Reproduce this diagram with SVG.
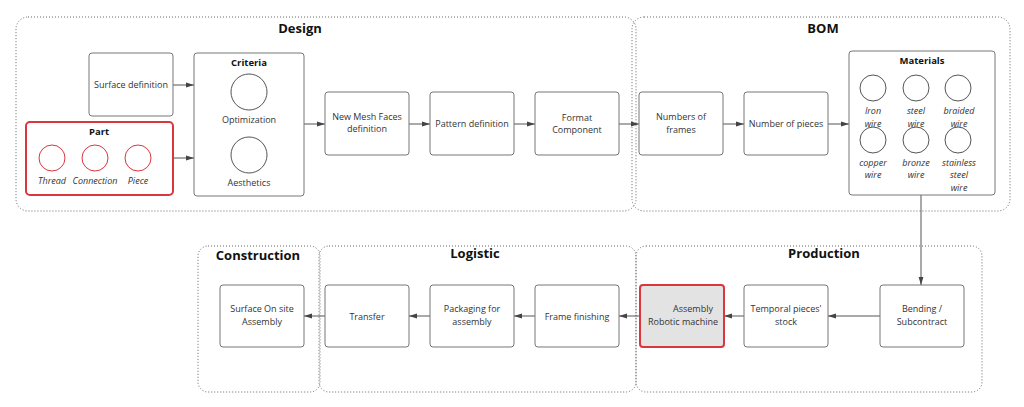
<svg xmlns="http://www.w3.org/2000/svg" width="1024" height="407" viewBox="0 0 1024 407">
<style>
text{font-family:"Open Sans","Noto Sans",sans-serif;fill:#333;font-size:9px;text-anchor:middle}
.t{font-weight:bold;font-size:13px;fill:#111}
.h{font-weight:bold;font-size:9.5px;fill:#111}
.i{font-style:italic}
.grp{fill:none;stroke:#666;stroke-width:1;stroke-dasharray:1 2}
.box{fill:#fff;stroke:#777;stroke-width:1}
.red{fill:#fff;stroke:#d9363e;stroke-width:2}
.c{fill:#fff;stroke:#555;stroke-width:1}
.rc{fill:#fff;stroke:#d9363e;stroke-width:1}
.ln{stroke:#555;stroke-width:1;fill:none;marker-end:url(#a)}
</style>
<defs><marker id="a" viewBox="0 0 10 10" refX="10" refY="5" markerWidth="8" markerHeight="8" orient="auto"><path d="M0,2 L10,5 L0,8 z" fill="#444"/></marker></defs>
<rect width="1024" height="407" fill="#fff"/>
<g id="groups">
<rect class="grp" x="16" y="17" width="620" height="194" rx="12"/>
<rect class="grp" x="632" y="17" width="378" height="194" rx="12"/>
<rect class="grp" x="198" y="246" width="122" height="146" rx="10"/>
<rect class="grp" x="319" y="246" width="317" height="146" rx="10"/>
<rect class="grp" x="636" y="246" width="346" height="146" rx="10"/>
<text class="t" x="300" y="33">Design</text>
<text class="t" x="823" y="33">BOM</text>
<text class="t" x="258" y="260">Construction</text>
<text class="t" x="475" y="258">Logistic</text>
<text class="t" x="824" y="258">Production</text>
</g>
<g id="connectors">
<line class="ln" x1="173" y1="85" x2="194" y2="85"/>
<line class="ln" x1="173" y1="158" x2="194" y2="158"/>
<line class="ln" x1="304" y1="124" x2="325" y2="124"/>
<line class="ln" x1="409" y1="124" x2="430" y2="124"/>
<line class="ln" x1="514" y1="124" x2="535" y2="124"/>
<line class="ln" x1="619" y1="124" x2="639" y2="124"/>
<line class="ln" x1="723" y1="124" x2="744" y2="124"/>
<line class="ln" x1="828" y1="124" x2="849" y2="124"/>
<line class="ln" x1="921" y1="195" x2="921" y2="285"/>
<line class="ln" x1="880" y1="316" x2="828" y2="316"/>
<line class="ln" x1="744" y1="316" x2="724" y2="316"/>
<line class="ln" x1="640" y1="316" x2="619" y2="316"/>
<line class="ln" x1="535" y1="316" x2="514" y2="316"/>
<line class="ln" x1="430" y1="316" x2="409" y2="316"/>
<line class="ln" x1="325" y1="316" x2="304" y2="316"/>
</g>
<g id="surface"><rect class="box" x="89" y="53" width="84" height="63" rx="3"/><text x="131" y="88">Surface definition</text></g>
<g id="part"><rect class="red" x="26" y="122" width="147" height="73" rx="4"/><text class="h" x="99" y="135">Part</text>
<circle class="rc" cx="52" cy="158" r="13"/><circle class="rc" cx="95" cy="158" r="13"/><circle class="rc" cx="138" cy="158" r="13"/>
<text class="i" x="52" y="184">Thread</text><text class="i" x="95" y="184">Connection</text><text class="i" x="138" y="184">Piece</text></g>
<g id="criteria"><rect class="box" x="194" y="53" width="110" height="143" rx="3"/><text class="h" x="249" y="66">Criteria</text>
<circle class="c" cx="249" cy="92" r="18"/><text x="249" y="123">Optimization</text>
<circle class="c" cx="249" cy="155" r="18"/><text x="249" y="186">Aesthetics</text></g>
<g id="mesh"><rect class="box" x="325" y="92" width="84" height="63" rx="3"/><text x="367" y="120">New Mesh Faces</text><text x="367" y="132">definition</text></g>
<g id="pattern"><rect class="box" x="430" y="92" width="84" height="63" rx="3"/><text x="472" y="127">Pattern definition</text></g>
<g id="format"><rect class="box" x="535" y="92" width="84" height="63" rx="3"/><text x="577" y="121">Format</text><text x="577" y="133">Component</text></g>
<g id="frames"><rect class="box" x="639" y="92" width="84" height="63" rx="3"/><text x="681" y="120">Numbers of</text><text x="681" y="133">frames</text></g>
<g id="pieces"><rect class="box" x="744" y="92" width="84" height="63" rx="3"/><text x="786" y="127">Number of pieces</text></g>
<g id="materials"><rect class="box" x="849" y="51" width="146" height="144" rx="3"/><text class="h" x="922" y="64">Materials</text>
<circle class="c" cx="873" cy="88" r="13"/><circle class="c" cx="916" cy="88" r="13"/><circle class="c" cx="958" cy="88" r="13"/>
<text class="i" x="873" y="114">Iron</text><text class="i" x="873" y="127">wire</text>
<text class="i" x="916" y="114">steel</text><text class="i" x="916" y="127">wire</text>
<text class="i" x="959" y="114">braided</text><text class="i" x="959" y="127">wire</text>
<circle class="c" cx="873" cy="140" r="13"/><circle class="c" cx="916" cy="140" r="13"/><circle class="c" cx="958" cy="140" r="13"/>
<text class="i" x="873" y="166">copper</text><text class="i" x="873" y="178">wire</text>
<text class="i" x="916" y="166">bronze</text><text class="i" x="916" y="178">wire</text>
<text class="i" x="959" y="166">stainless</text><text class="i" x="959" y="178">steel</text><text class="i" x="959" y="191">wire</text></g>
<g id="bending"><rect class="box" x="880" y="285" width="84" height="62" rx="3"/><text x="922" y="312">Bending /</text><text x="922" y="325">Subcontract</text></g>
<g id="temporal"><rect class="box" x="744" y="285" width="84" height="62" rx="3"/><text x="786" y="312">Temporal pieces'</text><text x="786" y="325">stock</text></g>
<g id="assembly"><rect x="640" y="285" width="84" height="62" rx="3" fill="#e3e3e3" stroke="#d9363e" stroke-width="2"/><text x="693" y="312">Assembly</text><text x="683" y="325">Robotic machine</text></g>
<g id="finishing"><rect class="box" x="535" y="285" width="84" height="62" rx="3"/><text x="577" y="320">Frame finishing</text></g>
<g id="packaging"><rect class="box" x="430" y="285" width="84" height="62" rx="3"/><text x="472" y="312">Packaging for</text><text x="472" y="325">assembly</text></g>
<g id="transfer"><rect class="box" x="325" y="285" width="84" height="62" rx="3"/><text x="367" y="320">Transfer</text></g>
<g id="surfaceonsite"><rect class="box" x="220" y="285" width="84" height="62" rx="3"/><text x="262" y="312">Surface On site</text><text x="262" y="325">Assembly</text></g>
</svg>
